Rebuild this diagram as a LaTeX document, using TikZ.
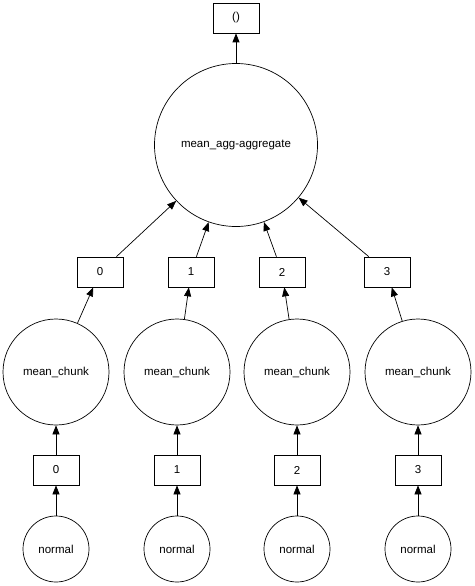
\documentclass[tikz,border=0pt]{standalone}
\usepackage{fontspec}
\setmainfont{Liberation Sans}
\usetikzlibrary{arrows.meta}

\tikzset{
  task/.style={draw, circle, inner sep=0pt, line width=0.7pt},
  datum/.style={draw, rectangle, inner sep=0pt, line width=0.7pt,
    minimum width=46pt, minimum height=30pt},
  dep/.style={line width=0.7pt, -{Triangle[length=9pt,width=7pt]}}
}

\begin{document}
\begin{tikzpicture}[x=1pt, y=-1pt, font=\fontsize{11.5}{13}\selectfont]
            \useasboundingbox (0,0) rectangle (474,586);

            % result and aggregation
            \node[datum] (result) at (236,18) {()};
            \node[task, minimum size=163pt] (agg) at (236,145) {mean\_agg-aggregate};

            % partial results
            \node[datum] (p0) at (100,272) {0};
            \node[datum] (p1) at (191,272) {1};
            \node[datum] (p2) at (282,272) {2};
            \node[datum] (p3) at (387,272) {3};

            % chunk means
            \node[task, minimum size=106pt] (m0) at (56,372) {mean\_chunk};
            \node[task, minimum size=106pt] (m1) at (177,372) {mean\_chunk};
            \node[task, minimum size=106pt] (m2) at (297,372) {mean\_chunk};
            \node[task, minimum size=106pt] (m3) at (418,372) {mean\_chunk};

            % chunks
            \node[datum] (c0) at (56,470) {0};
            \node[datum] (c1) at (177,470) {1};
            \node[datum] (c2) at (297,470) {2};
            \node[datum] (c3) at (418,470) {3};

            % random sources
            \node[task, minimum size=66pt] (n0) at (56,549) {normal};
            \node[task, minimum size=66pt] (n1) at (177,549) {normal};
            \node[task, minimum size=66pt] (n2) at (297,549) {normal};
            \node[task, minimum size=66pt] (n3) at (418,549) {normal};

            \draw[dep] (agg) -- (result);
            \draw[dep] (p0) -- (agg);
            \draw[dep] (p1) -- (agg);
            \draw[dep] (p2) -- (agg);
            \draw[dep] (p3) -- (agg);
            \draw[dep] (m0) -- (p0);
            \draw[dep] (m1) -- (p1);
            \draw[dep] (m2) -- (p2);
            \draw[dep] (m3) -- (p3);
            \draw[dep] (c0) -- (m0);
            \draw[dep] (c1) -- (m1);
            \draw[dep] (c2) -- (m2);
            \draw[dep] (c3) -- (m3);
            \draw[dep] (n0) -- (c0);
            \draw[dep] (n1) -- (c1);
            \draw[dep] (n2) -- (c2);
            \draw[dep] (n3) -- (c3);
        \end{tikzpicture}
\end{document}
